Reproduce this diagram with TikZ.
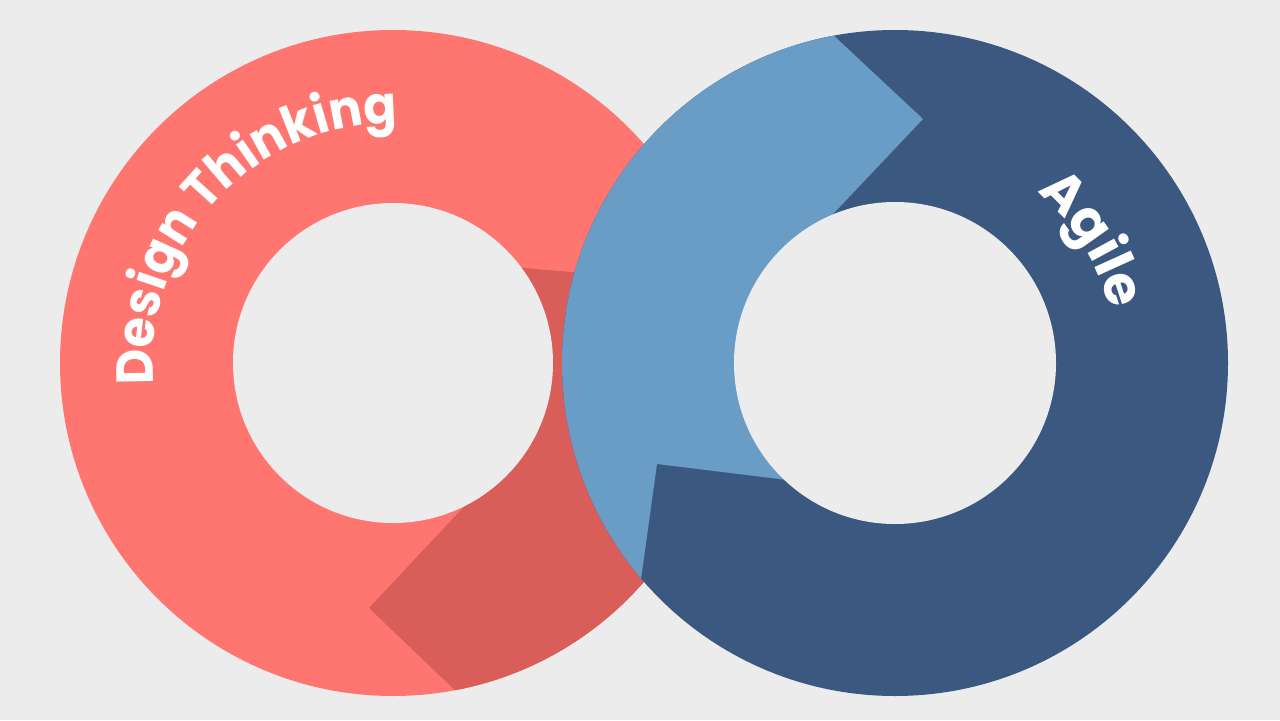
\documentclass[tikz,border=0pt]{standalone}
\usepackage{fontspec}
\setmainfont{Poppins}
\newfontfamily\dtfont{Poppins}[FakeStretch=0.94]
\usetikzlibrary{decorations.text}
\definecolor{bg}{HTML}{ECECEC}
\definecolor{coral}{HTML}{FF7670}
\definecolor{coraldark}{HTML}{D95D58}
\definecolor{lightblue}{HTML}{6A9DC6}
\definecolor{navy}{HTML}{3A5880}
\tikzset{
  ringlabel/.style 2 args={decorate, decoration={text along path, text align=center, text color=white,
    text={|#1\bfseries|#2}}}
}
\begin{document}
\begin{tikzpicture}[x=0.5pt,y=0.5pt]
\useasboundingbox (0,0) rectangle (1280,720);
\fill[bg] (0,0) rectangle (1280,720);
\coordinate (C1) at (393,357);
\coordinate (C2) at (895,357);
% left ring
\fill[coral] (C1) circle (333);
\begin{scope}
  \clip (C1) circle (333);
  \fill[coraldark] (500,454) -- (760,432) -- (760,-40) -- (528,-40) -- (369,112) -- (520,273) -- cycle;
\end{scope}
\fill[bg] (C1) circle (160);
% right ring
\fill[navy] (C2) circle (333);
\begin{scope}
  \clip (C2) circle (333);
  \fill[lightblue] (800,716) -- (540,716) -- (540,105) -- (636,105) -- (657,256) -- (820,236) -- (800,471) -- (923,601) -- cycle;
\end{scope}
\fill[bg] (C2) circle (161);
% labels
\path[ringlabel={\dtfont\fontsize{26}{26}\selectfont}{Design Thinking}] ([shift={(C1)}]200:240) arc[start angle=200, end angle=74, radius=240];
\path[ringlabel={\fontsize{27}{27}\selectfont}{Agile}] ([shift={(C2)}]62:222) arc[start angle=62, end angle=2, radius=222];
\end{tikzpicture}
\end{document}
